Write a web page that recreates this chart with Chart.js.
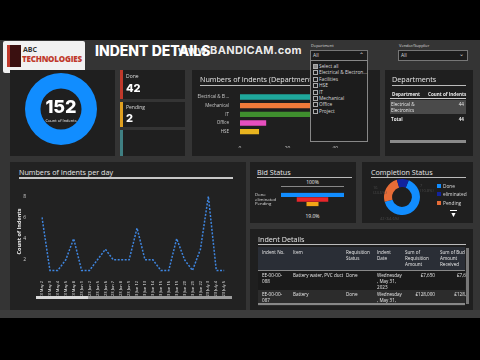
<!DOCTYPE html>
<html><head><meta charset="utf-8">
<script src="https://cdn.jsdelivr.net/npm/chart.js@4"></script>
<style>
body{margin:0;width:480px;height:360px;background:#000;overflow:hidden;font-family:"Open Sans",sans-serif;color:#ddd;position:relative;}
.a{position:absolute;white-space:nowrap;}
.panel{position:absolute;background:#1f1f1f;}
.ttl{position:absolute;font-size:7.2px;color:#e6e6e6;font-family:"Open Sans",sans-serif;}
.uline{position:absolute;height:1px;background:#9a9a9a;}
canvas{position:absolute;}
.dd{position:absolute;background:#1c1c1c;border:1px solid #777;font-size:5px;color:#ddd;}
.tb{position:absolute;font-size:4.6px;color:#e8e8e8;line-height:6px;}
</style></head>
<body>
<div class="a" style="left:0;top:40px;width:480px;height:278px;background:#343434;"></div>
<div class="a" style="left:0;top:310px;width:480px;height:8px;background:#3c3c3c;"></div>

<!-- logo -->
<div class="a" style="left:3px;top:41px;width:82px;height:32px;background:#f1f1f1;border-radius:2px;"></div>
<div class="a" style="left:7px;top:45px;width:11px;height:22px;background:#3a1010;border-left:3px solid #c0392b;"></div>
<div class="a" style="left:23px;top:45px;font-size:7px;color:#333;font-weight:700;">ABC</div>
<div class="a" style="left:22px;top:53px;font-size:8px;color:#c0392b;font-weight:800;letter-spacing:-0.2px;">TECHNOLOGIES</div>

<!-- title -->
<div class="a" style="left:95px;top:42px;font-size:14px;color:#fff;font-family:Inter,sans-serif;font-weight:800;">INDENT DETAILS</div>
<div class="a" style="left:178px;top:43px;font-size:11px;color:rgba(255,255,255,0.92);font-family:Inter,sans-serif;font-weight:700;letter-spacing:0.3px;">www.BANDICAM.com</div>

<!-- slicers -->
<div class="a" style="left:311px;top:43px;font-size:4px;color:#ddd;">Department</div>
<div class="a" style="left:399px;top:43px;font-size:4px;color:#ddd;">Vendor/Supplier</div>
<div class="dd" style="left:310px;top:50px;width:56px;height:9px;"><span style="position:absolute;left:2px;top:1px;">All</span><span style="position:absolute;right:3px;top:0px;font-size:6px;">&#8963;</span></div>
<div class="dd" style="left:398px;top:50px;width:68px;height:9px;"><span style="position:absolute;left:2px;top:1px;">All</span><span style="position:absolute;right:3px;top:-1px;font-size:6px;">&#8964;</span></div>

<!-- panels -->
<div class="panel" style="left:10px;top:70px;width:105px;height:86px;"></div>
<div class="panel" style="left:120px;top:70px;width:65px;height:29px;border-left:3px solid #c0392b;box-sizing:border-box;"></div>
<div class="panel" style="left:120px;top:102px;width:65px;height:25px;border-left:3px solid #e0a020;box-sizing:border-box;"></div>
<div class="panel" style="left:120px;top:130px;width:65px;height:26px;border-left:3px solid #3f7f82;box-sizing:border-box;"></div>
<div class="panel" style="left:192px;top:70px;width:188px;height:86px;"></div>
<div class="panel" style="left:385px;top:70px;width:88px;height:86px;"></div>
<div class="panel" style="left:10px;top:162px;width:236px;height:148px;background:#222;"></div>
<div class="panel" style="left:250px;top:162px;width:106px;height:61px;"></div>
<div class="panel" style="left:362px;top:162px;width:111px;height:61px;"></div>
<div class="panel" style="left:250px;top:229px;width:223px;height:81px;"></div>

<!-- KPI -->
<canvas id="cTotal" width="72" height="72" style="left:25px;top:73px;"></canvas>
<div class="a" id="totalTxt" style="left:25px;top:96px;width:72px;text-align:center;font-size:18px;font-weight:800;color:#fff;font-family:Inter,sans-serif;"></div>
<div class="a" style="left:25px;top:118px;width:72px;text-align:center;font-size:4px;color:#eee;">Count of Indents</div>
<div class="a" style="left:126px;top:73px;font-size:5px;color:#ddd;">Done</div>
<div class="a" id="doneTxt" style="left:126px;top:81px;font-size:11px;font-weight:800;color:#fff;font-family:Inter,sans-serif;"></div>
<div class="a" style="left:126px;top:104px;font-size:5px;color:#ddd;">Pending</div>
<div class="a" id="pendTxt" style="left:126px;top:111px;font-size:11px;font-weight:800;color:#fff;font-family:Inter,sans-serif;"></div>

<!-- dept bar -->
<div class="ttl" style="left:200px;top:74px;">Numbers of Indents (Departments)</div>
<div class="uline" style="left:200px;top:85px;width:112px;background:#bbb;"></div>
<canvas id="cDept" width="164" height="61" style="left:195px;top:87px;"></canvas>

<!-- departments table -->
<div class="ttl" style="left:392px;top:74px;">Departments</div>
<div class="uline" style="left:392px;top:85px;width:74px;background:#bbb;"></div>
<div class="tb" style="left:392px;top:91px;font-weight:700;">Department</div>
<div class="tb" style="left:428px;top:91px;font-weight:700;">Count of Indents</div>
<div class="uline" style="left:390px;top:98px;width:76px;background:#ccc;"></div>
<div class="a" style="left:390px;top:100px;width:76px;height:14px;background:#4a4a4a;"></div>
<div class="tb" style="left:391px;top:101px;">Electrical &amp;<br>Electronics</div>
<div class="tb" id="dtVal" style="left:450px;top:101px;width:14px;text-align:right;"></div>
<div class="tb" style="left:391px;top:116px;font-weight:700;">Total</div>
<div class="tb" id="dtTot" style="left:450px;top:116px;width:14px;text-align:right;font-weight:700;"></div>
<div class="a" style="left:390px;top:140px;width:76px;height:3px;background:#8a8a8a;"></div>

<!-- dropdown list -->
<div class="dd" id="ddList" style="left:310px;top:60px;width:56px;height:80px;border-color:#888;"></div>

<!-- line chart -->
<div class="ttl" style="left:19px;top:167px;">Numbers of Indents per day</div>
<div class="uline" style="left:19px;top:177px;width:214px;height:1.5px;background:#c8c8c8;"></div>
<canvas id="cLine" width="214" height="116" style="left:16px;top:180px;"></canvas>
<div class="a" style="left:36px;top:296px;width:196px;height:3px;background:#9c9c9c;"></div>
<div class="a" style="left:36px;top:296px;width:52px;height:3px;background:#d8d8d8;"></div>

<!-- bid status -->
<div class="ttl" style="left:257px;top:167px;">Bid Status</div>
<div class="uline" style="left:257px;top:177px;width:95px;background:#bbb;"></div>
<div class="a" style="left:300px;top:179px;width:25px;text-align:center;font-size:5px;color:#eee;">100%</div>
<div class="uline" style="left:281px;top:186px;width:63px;background:#888;"></div>
<canvas id="cBid" width="90" height="19" style="left:255px;top:190px;"></canvas>
<div class="a" id="bidPct" style="left:300px;top:213px;width:25px;text-align:center;font-size:5px;color:#eee;"></div>

<!-- completion -->
<div class="ttl" style="left:371px;top:167px;">Completion Status</div>
<div class="uline" style="left:371px;top:177px;width:95px;background:#bbb;"></div>
<canvas id="cComp" width="36" height="36" style="left:384px;top:179px;"></canvas>
<div id="compLegend"></div>
<div class="a" style="left:373px;top:185px;font-size:4px;color:#4a4a4a;line-height:5px;">16<br>(24.6%)</div>
<div class="a" style="left:420px;top:183px;font-size:4px;color:#4a4a4a;line-height:5px;">7<br>(10.8%)</div>
<div class="a" style="left:380px;top:216px;font-size:4px;color:#4a4a4a;">42 (64.6%)</div>
<div class="a" style="left:450px;top:210px;font-size:7px;color:#fff;">&#9660;</div>
<div class="a" style="left:450px;top:210px;width:7px;height:1px;background:#fff;"></div>

<!-- indent details -->
<div class="ttl" style="left:258px;top:234px;">Indent Details</div>
<div class="uline" style="left:258px;top:244px;width:208px;background:#bbb;"></div>
<div class="a" style="left:258px;top:247px;width:207px;height:23px;background:#2a2e36;"></div>
<div class="a" style="left:258px;top:270px;width:207px;height:1px;background:#888;"></div>
<div class="a" style="left:258px;top:271px;width:207px;height:19px;background:#1a1a1a;"></div>
<div class="a" style="left:258px;top:290px;width:207px;height:16px;background:#2c2c2c;"></div>
<div id="indTable"></div>
<div class="a" style="left:466px;top:248px;width:3px;height:56px;background:#777;"></div>
<div class="a" style="left:258px;top:303px;width:207px;height:2px;background:#888;"></div>

<script>
// ---------- data ----------
const totalIndents = 152;
const doneCount = 42;
const pendingCount = 2;

const deptLabels = ['Electrical & El...', 'Mechanical', 'IT', 'Office', 'HSE'];
const deptCounts = [44, 40, 35, 11, 8];
const deptColors = ['#1fa89c', '#f07a3a', '#3f8e2e', '#e84fbf', '#e8b41f'];
const deptTicks = [0, 20, 40];

const slicerItems = ['Select all', 'Electrical & Electron...', 'Facilities', 'HSE', 'IT', 'Mechanical', 'Office', 'Project'];

const dayLabels = ['2023 May 2','2023 May 3','2023 May 4','2023 May 5','2023 May 8','2023 Jun 1','2023 Jun 2','2023 Jun 5','2023 Jun 6','2023 Jun 7','2023 Jun 8','2023 Jun 9','2023 Jun 12','2023 Jun 13','2023 Jun 14','2023 Jun 15','2023 Jun 16','2023 Jun 19','2023 Jun 20','2023 Jun 21','2023 Jun 22','2023 July 3','2023 July 4','2023 July 5'];
const dayCounts = [6, 1, 1, 2, 4, 1, 1, 2, 3, 2, 2, 2, 5, 2, 2, 1, 1, 4, 2, 1, 3, 8, 1, 1];
const dayTicks = [2, 4, 6, 8];

const bidLabels = ['Done', 'eliminated', 'Pending'];
const bidValues = [42, 21, 8];
const bidColors = ['#118DFF', '#e8262b', '#f2a516'];

const compLabels = ['Done', 'eliminated', 'Pending'];
const compValues = [42, 7, 16];
const compColors = ['#118DFF', '#12239E', '#E66C37'];

const deptTable = [['Electrical & Electronics', 44]];

const indentCols = ['Indent No.', 'Item', 'Requisition<br>Status', 'Indent<br>Date', 'Sum of<br>Requisition<br>Amount', 'Sum of Bud<br>Amount<br>Received'];
const indentRows = [
  ['EE-00-00-<br>088', 'Battery water, PVC duct', 'Done', 'Wednesday<br>, May 31,<br>2023', '£7,650', '£7,6'],
  ['EE-00-00-<br>087', 'Battery', 'Done', 'Wednesday<br>, May 31,', '£128,000', '£128,']
];

// ---------- text ----------
document.getElementById('totalTxt').textContent = totalIndents;
document.getElementById('doneTxt').textContent = doneCount;
document.getElementById('pendTxt').textContent = pendingCount;
document.getElementById('dtVal').textContent = deptTable[0][1];
document.getElementById('dtTot').textContent = deptTable[0][1];
document.getElementById('bidPct').textContent = (bidValues[2] / bidValues[0] * 100).toFixed(1) + '%';

const dd = document.getElementById('ddList');
slicerItems.forEach((t, i) => {
  const y = 2 + i * 6.4;
  dd.insertAdjacentHTML('beforeend', `<div class="a" style="left:2px;top:${y + 1}px;width:3px;height:3px;border:0.5px solid #aaa;${i===0?'background:#888;':''}"></div><div class="a" style="left:8px;top:${y}px;font-size:4.8px;">${t}</div>`);
});

const lg = document.getElementById('compLegend');
const legY = [183, 191, 200];
compLabels.forEach((t, i) => {
  lg.insertAdjacentHTML('beforeend', `<div class="a" style="left:437px;top:${legY[i]+1}px;width:4px;height:4px;background:${compColors[i]};"></div><div class="a" style="left:443px;top:${legY[i]}px;font-size:4.8px;color:#ddd;">${t}</div>`);
});

const colX = [262, 293, 346, 377, 405, 440];
const colAlignR = [false, false, false, false, true, true];
const colW = [28, 50, 28, 28, 30, 26];
const it = document.getElementById('indTable');
indentCols.forEach((t, i) => {
  it.insertAdjacentHTML('beforeend', `<div class="tb" style="left:${colX[i]}px;top:249px;">${t}</div>`);
});
const rowY = [272, 291];
indentRows.forEach((r, ri) => {
  r.forEach((t, i) => {
    const st = colAlignR[i] ? `left:${colX[i]}px;width:${colW[i]}px;text-align:right;` : `left:${colX[i]}px;`;
    it.insertAdjacentHTML('beforeend', `<div class="tb" style="${st}top:${rowY[ri]}px;overflow:hidden;max-height:${ri===0?18:13}px;">${t}</div>`);
  });
});

// ---------- charts ----------
Chart.defaults.animation = false;
Chart.defaults.font.family = '"Open Sans", sans-serif';
const noPlug = { legend: { display: false }, tooltip: { enabled: false } };

new Chart(document.getElementById('cTotal'), {
  type: 'doughnut',
  data: { labels: ['Count of Indents'], datasets: [{ data: [totalIndents], backgroundColor: '#118DFF', borderWidth: 0 }] },
  options: { responsive: false, cutout: '57%', plugins: noPlug }
});

new Chart(document.getElementById('cDept'), {
  type: 'bar',
  data: { labels: deptLabels, datasets: [{ data: deptCounts, backgroundColor: deptColors, barPercentage: 0.62, categoryPercentage: 1 }] },
  options: {
    indexAxis: 'y', responsive: false, layout: { padding: 0 },
    scales: {
      x: { min: 0, max: 50, afterBuildTicks: s => { s.ticks = deptTicks.map(v => ({ value: v })); },
           ticks: { color: '#ccc', font: { size: 5 }, padding: 2 }, grid: { display: false }, border: { display: false },
           afterFit: s => { s.height = 12; } },
      y: { ticks: { color: '#ccc', font: { size: 4.5 }, padding: 3, autoSkip: false }, grid: { display: false }, border: { display: false },
           afterFit: s => { s.width = 45; } }
    },
    plugins: noPlug
  }
});

new Chart(document.getElementById('cLine'), {
  type: 'line',
  data: { labels: dayLabels, datasets: [{ data: dayCounts, borderColor: '#3f86e0', borderWidth: 1.5, borderDash: [2, 1.5], pointRadius: 0, tension: 0, fill: false }] },
  options: {
    responsive: false, layout: { padding: { top: 2, right: 4 } },
    scales: {
      x: { ticks: { color: '#e6e6e6', font: { size: 4 }, minRotation: 90, maxRotation: 90, autoSkip: false, padding: 1 },
           grid: { display: false }, border: { display: false }, afterFit: s => { s.height = 24; } },
      y: { min: 0.85, max: 8.5, afterBuildTicks: s => { s.ticks = dayTicks.map(v => ({ value: v })); },
           ticks: { color: '#ccc', font: { size: 5 }, padding: 8 }, grid: { display: false }, border: { display: false },
           title: { display: true, text: 'Count of Indents', color: '#eee', font: { size: 5.5, weight: 'bold' }, padding: 0 },
           afterFit: s => { s.width = 26; } }
    },
    plugins: noPlug
  }
});

const bidRange = bidValues[0] * 65 / 63 / 2;
new Chart(document.getElementById('cBid'), {
  type: 'bar',
  data: { labels: bidLabels, datasets: [{ data: bidValues.map(v => [-v / 2, v / 2]), backgroundColor: bidColors, barPercentage: 0.95, categoryPercentage: 1 }] },
  options: {
    indexAxis: 'y', responsive: false, layout: { padding: 0 },
    scales: {
      x: { display: false, min: -bidRange, max: bidRange },
      y: { ticks: { color: '#ddd', font: { size: 4.3 }, crossAlign: 'far', padding: 0, autoSkip: false }, grid: { display: false }, border: { display: false },
           afterFit: s => { s.width = 25; } }
    },
    plugins: noPlug
  }
});

const order = [0, 2, 1];
new Chart(document.getElementById('cComp'), {
  type: 'doughnut',
  data: { labels: order.map(i => compLabels[i]), datasets: [{ data: order.map(i => compValues[i]), backgroundColor: order.map(i => compColors[i]), borderWidth: 0 }] },
  options: { responsive: false, cutout: '55%', rotation: 22, plugins: noPlug }
});
</script>
</body></html>
